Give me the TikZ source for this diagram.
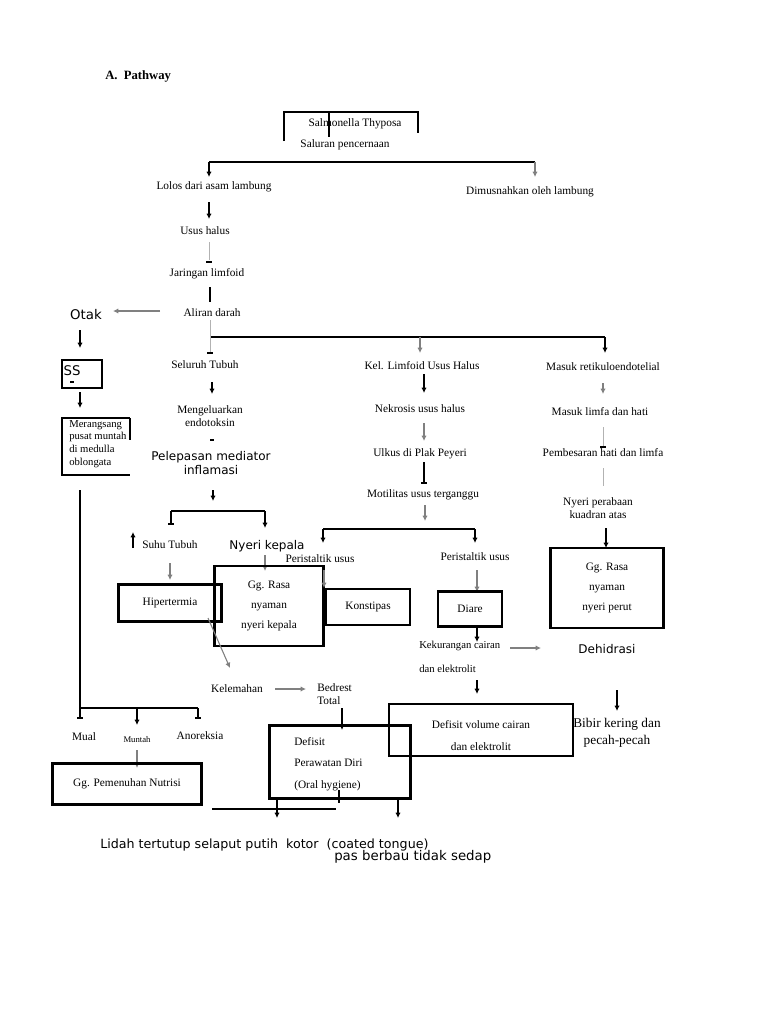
\documentclass[tikz,border=0pt]{standalone}
\usepackage{fontspec}
\setmainfont{Liberation Serif}
\newfontfamily\sansf{DejaVu Sans}
\usetikzlibrary{arrows.meta}
\begin{document}
\begin{tikzpicture}[x=0.75pt,y=-0.75pt,
  t/.style={font=\fontsize{8.5}{10}\selectfont,inner sep=0pt,align=center},
  s/.style={font=\sansf\fontsize{9}{11}\selectfont,inner sep=0pt,align=center},
  ar/.style={-{Latex[length=4pt,width=4pt]},line width=0.8pt},
  ln/.style={line width=0.8pt},
  gr/.style={gray!60,line width=0.6pt},
  bx/.style={draw,line width=2pt,inner sep=0pt}]
\useasboundingbox[fill=white] (0,0) rectangle (768,1024);
\node[t,anchor=west,font=\bfseries\fontsize{9.5}{11}\selectfont] (title) at (105,76) {A.\ \ Pathway};
% top
\draw[ln] (284,141)--(284,112)--(418,112)--(418,133);
\draw[ln] (329,112)--(329,137);
\node[t] (salm) at (355,124) {Salmonella Thyposa};
\node[t] (sal) at (345,145) {Saluran pencernaan};
\draw[ln] (209,162)--(535,162);
\draw[ar] (209,162)--(209,177);
\draw[ar,gray] (535,162)--(535,177);
\node[t] (lolos) at (214,187) {Lolos dari asam lambung};
\node[t] (dim) at (530,192) {Dimusnahkan oleh lambung};
\draw[ar] (209,202)--(209,219);
\node[t] (usus) at (205,231) {Usus halus};
\draw[gr] (209,242)--(209,260); \draw[ln](206,262)--(212,262);
\node[t] (jar) at (207,274) {Jaringan limfoid};
\draw[ln] (210,287)--(210,302);
\node[t] (ali) at (212,313) {Aliran darah};
\node[s,font=\sansf\fontsize{10}{12}\selectfont] (otak) at (86,315) {Otak};
\draw[ar,gray] (160,311)--(113,311);
\draw[ln] (210,337)--(605,337);
\draw[gr] (210,320)--(210,353); \draw[ln](207,353)--(213,353);
\draw[ar,gray] (420,337)--(420,353);
\draw[ar] (605,337)--(605,353);
% left column
\draw[ar] (80,330)--(80,348);
\draw[ln] (62,360) rectangle (102,388);
\node[s,font=\sansf\fontsize{10}{12}\selectfont] (ss) at (72,371) {SS};
\draw[ln] (70,382)--(74,382);
\draw[ar] (80,392)--(80,408);
\draw[ln] (130,418)--(62,418)--(62,475)--(130,475); \draw[ln](130,418)--(130,440);
\node[t,align=left,anchor=north west,font=\fontsize{8}{9.5}\selectfont] (mer) at (69,420) {Merangsang\\pusat muntah\\di medulla\\oblongata};
\draw[ln] (80,490)--(80,708)--(198,708);
\draw[ln] (80,708)--(80,718) (77,718)--(83,718);
\draw[ar] (137,708)--(137,725);
\draw[ln] (198,708)--(198,718) (195,718)--(201,718);
\node[t] (mual) at (84,737) {Mual};
\node[t,font=\fontsize{6.5}{8}\selectfont] (munt) at (137,740) {Muntah};
\node[t] (anor) at (200,736) {Anoreksia};
\draw[ar,gray] (137,750)--(137,768);
\node[bx,minimum width=112,minimum height=31,t] (nut) at (127,784) {Gg. Pemenuhan Nutrisi};
% second column
\node[t] (sel) at (205,365) {Seluruh Tubuh};
\draw[ar] (212,382)--(212,394);
\node[t] (meng) at (210,416) {Mengeluarkan\\endotoksin};
\draw[ln] (210,440)--(214,440);
\node[s] (pel) at (211,463) {Pelepasan mediator\\inflamasi};
\draw[ar] (213,490)--(213,501);
\draw[ln] (171,511)--(265,511);
\draw[ln] (171,511)--(171,524) (168,524)--(174,524);
\draw[ar] (265,511)--(265,528);
\draw[ar] (133,548)--(133,532);
\node[t,anchor=west] (suhu) at (142,545) {Suhu Tubuh};
\node[s] (nyk) at (267,546) {Nyeri kepala};
\draw[ar,gray] (170,563)--(170,580);
\draw[ar,gray] (265,555)--(265,571);
\node[bx,minimum width=77,minimum height=28,t] (hip) at (170,603) {Hipertermia};
\node[bx,minimum width=82,minimum height=60,t,font=\fontsize{8.5}{15}\selectfont] (gg1) at (269,606) {Gg. Rasa\\nyaman\\nyeri kepala};
\draw[ar,gray] (208,618)--(230,668);
\node[t] (kel) at (237,689) {Kelemahan};
\draw[ar,gray] (275,689)--(306,689);
\node[t,anchor=west,align=left] (bed) at (317,694) {Bedrest\\Total};
\draw[ar] (342,708)--(342,730);
\node[bx,minimum width=106,minimum height=55] (def) at (340,762) {};
\node[t,anchor=west,align=left,font=\fontsize{8.5}{16}\selectfont] (deft) at (294,764) {Defisit\\Perawatan Diri\\(Oral hygiene)};
\draw[ln] (339,790)--(339,803);
\draw[ln] (212,809)--(336,809);
\draw[ar] (277,799)--(277,818);
\draw[ar] (398,799)--(398,818);
\node[s,anchor=west,font=\sansf\fontsize{9.5}{11}\selectfont] (lid) at (100,845) {Lidah tertutup selaput putih\ \ kotor\ \ (coated tongue)};
\node[s,anchor=west,font=\sansf\fontsize{10}{11}\selectfont] (pas) at (334,857) {pas berbau tidak sedap};
% middle column
\node[t] (klu) at (422,366) {Kel. Limfoid Usus Halus};
\draw[ar] (424,374)--(424,393);
\node[t] (nek) at (420,409) {Nekrosis usus halus};
\draw[ar,gray] (424,423)--(424,441);
\node[t] (ulk) at (420,454) {Ulkus di Plak Peyeri};
\draw[ln] (424,462)--(424,483) (421,483)--(427,483);
\node[t] (mot) at (423,495) {Motilitas usus terganggu};
\draw[ar,gray] (425,505)--(425,521);
\draw[ln] (323,529)--(475,529);
\draw[ar] (323,529)--(323,543);
\draw[ar] (475,529)--(475,543);
\node[t] (per1) at (320,559) {Peristaltik usus};
\node[t] (per2) at (475,557) {Peristaltik usus};
\draw[ar,gray] (324,570)--(324,588);
\draw[ar,gray] (477,570)--(477,592);
\node[bx,minimum width=63,minimum height=27,t] (kon) at (368,607) {Konstipas};
\node[bx,minimum width=48,minimum height=26,t] (dia) at (470,609) {Diare};
\draw[ar] (477,626)--(477,642);
\node[t,anchor=west,align=left,font=\fontsize{8}{18}\selectfont] (kek) at (419,657) {Kekurangan cairan\\dan elektrolit};
\draw[ar,gray] (510,648)--(541,648);
\node[s] (deh) at (607,649) {Dehidrasi};
\draw[ar] (477,680)--(477,694);
\node[bx,minimum width=138,minimum height=39] (dvc) at (481,730) {};
\node[t,font=\fontsize{8.5}{17}\selectfont,anchor=north] (dvct) at (481,720) {Defisit volume cairan\\dan elektrolit};
\draw[ar] (617,690)--(617,711);
\node[t,font=\fontsize{10}{13}\selectfont] (bib) at (617,733) {Bibir kering dan\\pecah-pecah};
% right column
\node[t] (mre) at (603,367) {Masuk retikuloendotelial};
\draw[ar,gray] (603,383)--(603,394);
\node[t] (mlh) at (600,412) {Masuk limfa dan hati};
\draw[gr] (603,427)--(603,446); \draw[ln](600,447)--(606,447);
\node[t] (pem) at (603,453) {Pembesaran hati dan limfa};
\draw[gr] (603,468)--(603,486);
\node[t] (nyp) at (598,508) {Nyeri perabaan\\kuadran atas};
\draw[ar] (606,528)--(606,548);
\node[bx,minimum width=85,minimum height=60,t,font=\fontsize{8.5}{15}\selectfont] (gg2) at (607,588) {Gg. Rasa\\nyaman\\nyeri perut};
\end{tikzpicture}
\end{document}
